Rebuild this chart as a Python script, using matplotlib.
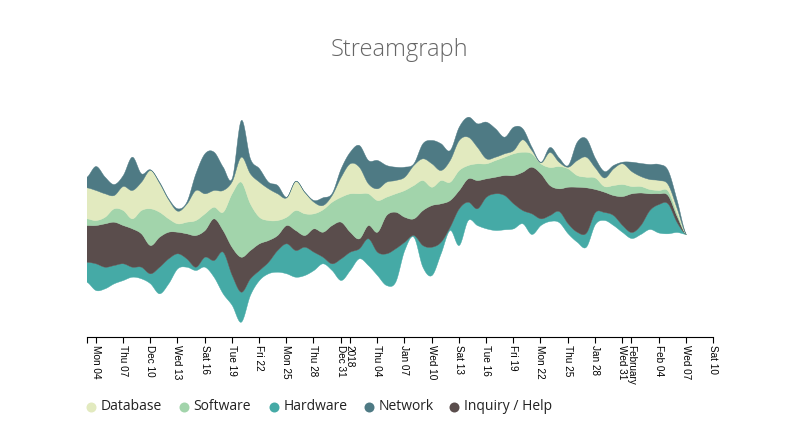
import numpy as np
import matplotlib
matplotlib.use("Agg")
import matplotlib.pyplot as plt
import matplotlib.dates as mdates

# ---------------- data ----------------
first_day = "2017-12-03"
last_day = "2018-02-07"
axis_end = "2018-02-10"

# stream offset: height of the bottom edge of the stream above the axis
baseline = [55, 46.7, 48.4, 53.4, 56.7, 60, 58.4, 53.4, 43.4, 53.4,
            68.4, 70, 66.7, 70, 60, 43.4, 31.7, 15, 41.7, 56.7,
            63.4, 65, 63.4, 60, 61.7, 66.7, 73.4, 66.7, 56.7, 66.7,
            78.4, 71.7, 61.7, 51.7, 55, 86.7, 100, 70, 61.7, 83.4,
            106.7, 91.7, 116.7, 111.7, 108.4, 106.7, 107.4, 108.4, 113.4, 102.7,
            111.7, 115.7, 114.7, 103.4, 95, 90, 112.7, 116.7, 111.7, 104.7,
            98.7, 102.7, 107.7, 104.2, 103.4, 104.7, 102.7]

# series in stacking order, bottom -> top
hardware = [20, 26.7, 21.6, 18.3, 16.7, 10, 11.6, 10, 26.6, 25,
            15, 8.4, 3.3, 10, 16.7, 41.6, 30, 30, 16.7, 10,
            11.6, 21.7, 30, 26.7, 28.3, 18.3, 6.6, 6.7, 21.7, 18.3,
            10, 26.7, 23.3, 31.7, 33.4, 8.3, 1.7, 21.7, 28.3, 11.6,
            3.3, 36.7, 18.3, 16.7, 31.6, 36.7, 34.3, 25, 13.3, 20.7,
            6.7, 6, 11, 10, 10, 14, 12, 8, 10, 7,
            6, 9, 19, 28.5, 30, 10, 0]
inquiry = [36.7, 38.3, 43.4, 43.3, 38.3, 38.4, 33.4, 28.3, 30, 26.6,
           21.6, 25, 31.7, 26.7, 41.7, 21.7, 28, 35, 28.3, 26.7,
           21.7, 15, 18.3, 20, 11.7, 23.4, 25, 38.3, 36.6, 20,
           10, 13.3, 20, 38.3, 36.6, 25, 16.7, 35, 41.7, 38.4,
           26.7, 18.3, 23.4, 28.3, 18.4, 16.6, 20, 28.3, 38.3, 46.6,
           45, 30, 22.7, 36.6, 45, 45.4, 23, 20.3, 20, 29,
           38.7, 32.5, 16.7, 10.7, 8.3, 6, 0]
software = [6.7, 5, 6.6, 13.4, 15, 10, 23.3, 36.7, 25, 13.4,
            8.4, 11.6, 15, 16.7, 11.6, 18.3, 54, 75, 46.7, 26.6,
            20, 15, 8.3, 20, 21.7, 15, 22.4, 23.3, 25, 38.4,
            45, 31.7, 31.7, 18.3, 18.4, 26.7, 33.3, 30, 18.3, 23.3,
            18.3, 20, 13.3, 16.7, 15, 16.7, 18.3, 21.7, 20, 13.4,
            10, 18, 22.3, 18.4, 11.7, 10.6, 11.5, 5.7, 10, 12,
            7.3, 6.5, 4.3, 3.3, 4.5, 3, 0]
database = [31, 30, 23.4, 13.3, 24, 28.3, 28.3, 38.3, 29, 19,
            12.6, 18, 30, 20, 16.7, 21.7, 12, 25, 30, 35,
            31.7, 26.7, 19.4, 29, 21.3, 11.6, 4.3, 6.7, 20, 30,
            26.6, 10, 11.7, 15, 13.3, 13.3, 20, 21.7, 23.4, 10,
            21.7, 30, 28.3, 16.6, 5, 3.3, 3.4, 3.3, 12.4, 3.3,
            1, 15, 4.3, 1.6, 15, 20, 10, 8.5, 16.7, 20.7,
            15, 10, 10, 10, 6.5, 5, 0]
network = [10.6, 24, 16.6, 11, 11, 33.3, 8.4, 0.7, 1, 1,
           2.4, 2, 16.7, 40, 38.3, 23.3, 3, 36.7, 15, 13.4,
           6.6, 8.3, 0.6, 0.3, 0.3, 1.7, 7.7, 2, 8.4, 11.6,
           21.7, 23.3, 28.3, 16.7, 13.3, 10, 1.7, 15, 23.3, 26.7,
           10, 13.3, 20, 23.4, 36.6, 28.4, 16.6, 23.3, 11, 3.3,
           0.6, 5, 4.2, 1.7, 18.3, 18.4, 9.5, 6.5, 3.3, 1.6,
           9.3, 13, 15, 16, 14, 8, 0]

stack_names = ["Hardware", "Inquiry / Help", "Software", "Database", "Network"]
stack_values = [hardware, inquiry, software, database, network]

legend_names = ["Database", "Software", "Hardware", "Network", "Inquiry / Help"]
colors = {"Database": "#e2eabf", "Software": "#a2d4ab", "Hardware": "#45aaa6",
          "Network": "#4e7a84", "Inquiry / Help": "#5a4d4c"}

tick_dates = ["2017-12-04", "2017-12-07", "2017-12-10", "2017-12-13", "2017-12-16",
              "2017-12-19", "2017-12-22", "2017-12-25", "2017-12-28", "2017-12-31",
              "2018-01-01", "2018-01-04", "2018-01-07", "2018-01-10", "2018-01-13",
              "2018-01-16", "2018-01-19", "2018-01-22", "2018-01-25", "2018-01-28",
              "2018-01-31", "2018-02-01", "2018-02-04", "2018-02-07", "2018-02-10"]
tick_labels = ["Mon 04", "Thu 07", "Dec 10", "Wed 13", "Sat 16", "Tue 19", "Fri 22",
               "Mon 25", "Thu 28", "Dec 31", "2018", "Thu 04", "Jan 07", "Wed 10",
               "Sat 13", "Tue 16", "Fri 19", "Mon 22", "Thu 25", "Jan 28", "Wed 31",
               "February", "Feb 04", "Wed 07", "Sat 10"]


# ---------------- helpers ----------------
def to_num(d):
    return mdates.date2num(np.datetime64(d).astype("datetime64[s]").astype(object))


def catmull_rom(x, v, per=24):
    v = np.asarray(v, float)
    p = np.concatenate([[v[0]], v, [v[-1]]])
    xs, ys = [], []
    t = np.linspace(0, 1, per, endpoint=False)
    for i in range(len(v) - 1):
        p0, p1, p2, p3 = p[i], p[i + 1], p[i + 2], p[i + 3]
        ys.append(0.5 * (2 * p1 + (-p0 + p2) * t + (2 * p0 - 5 * p1 + 4 * p2 - p3) * t ** 2
                         + (-p0 + 3 * p1 - 3 * p2 + p3) * t ** 3))
        xs.append(x[i] + (x[i + 1] - x[i]) * t)
    xs.append([x[-1]])
    ys.append([v[-1]])
    return np.concatenate(xs), np.concatenate(ys)


# ---------------- figure ----------------
W, H = 800, 446
fig = plt.figure(figsize=(W / 100, H / 100), dpi=100)

ax_top_px, ax_bot_px = 116.7, 336.7
ax_left_px, ax_right_px = 86.5, 713.0
ax = fig.add_axes([ax_left_px / W, (H - ax_bot_px) / H,
                   (ax_right_px - ax_left_px) / W, (ax_bot_px - ax_top_px) / H])

days = np.arange(np.datetime64(first_day), np.datetime64(last_day) + 1)
xd = np.array([to_num(d) for d in days])

vals = np.array(stack_values, float)
xf, lower = catmull_rom(xd, baseline)
for name, v in zip(stack_names, vals):
    _, vf = catmull_rom(xd, v)
    vf = np.clip(vf, 0, None)
    upper = lower + vf
    ax.fill_between(xf, lower, upper, facecolor=colors[name], edgecolor=colors[name],
                    linewidth=0.3)
    lower = upper

tops = np.asarray(baseline) + vals.sum(axis=0)
ax.set_ylim(0, tops.max())
ax.set_xlim(to_num(first_day), to_num(axis_end))

ax.set_xticks([to_num(d) for d in tick_dates])
ax.set_xticklabels(tick_labels, rotation=-90, ha="center", va="top",
                   fontsize=7.2, family="Liberation Sans", color="#000000")
ax.set_xticks([to_num(first_day)], minor=True)
ax.tick_params(axis="x", which="both", direction="out", length=4.3, width=0.8,
               pad=1.5, color="#000000")
ax.set_yticks([])
for s in ["left", "right", "top"]:
    ax.spines[s].set_visible(False)
ax.spines["bottom"].set_linewidth(0.8)
ax.patch.set_alpha(0)

# overlay in pixel coordinates for title / legend
ov = fig.add_axes([0, 0, 1, 1])
ov.set_xlim(0, W)
ov.set_ylim(H, 0)
ov.axis("off")
ov.patch.set_alpha(0)

ov.text(400, 50, "Streamgraph", ha="center", va="center", fontsize=17,
        family="Open Sans", fontweight="light", color="#666666")

legend_x = [91, 183.5, 274, 368.5, 453.5]
for lx, name in zip(legend_x, legend_names):
    ov.plot([lx], [406.7], "o", ms=7.2, color=colors[name], mec="none")
    ov.text(lx + 10, 406.7, name, ha="left", va="center", fontsize=10,
            family="Open Sans", color="#222222")

fig.savefig("out.png", dpi=100)
